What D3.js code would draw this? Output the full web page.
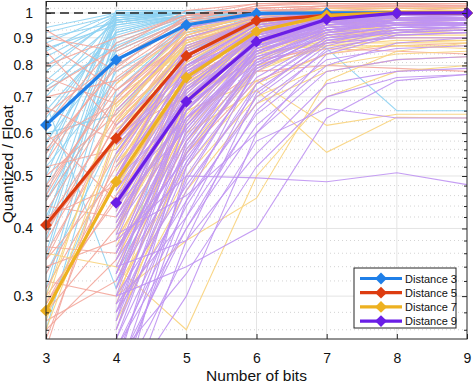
<!DOCTYPE html>
<html><head><meta charset="utf-8">
<script src="https://cdn.jsdelivr.net/npm/d3@7"></script>
<style>body{margin:0;background:#fff}svg{display:block}text{font-family:"Liberation Sans",Arial,sans-serif}</style>
</head><body><svg id="c" width="474" height="383"></svg>
<script>
const bits=[3,4,5,6,7,8,9];
const xTicks=[3,4,5,6,7,8,9];
const yTicks=[0.3,0.4,0.5,0.6,0.7,0.8,0.9,1];
const yTickLabels=["0.3","0.4","0.5","0.6","0.7","0.8","0.9","1"];
const yMinor=[0.26,0.28,0.32,0.34,0.36,0.38,0.42,0.44,0.46,0.48,0.52,0.54,0.56,0.58,0.63,0.66,0.69,0.72,0.75,0.78,0.81,0.84,0.87,0.93,0.96,1.02];
const legendNames=["Distance 3","Distance 5","Distance 7","Distance 9"];
// main curves (values at 3..9 bits; null = no point)
const dist3=[0.621,0.819,0.950,0.998,1.0,1.0,1.0];
const dist5=[0.406,0.587,0.833,0.968,0.99,1.0,1.0];
const dist7=[0.282,0.488,0.760,0.924,0.99,1.0,1.0];
const dist9=[null,0.446,0.686,0.885,0.973,0.999,1.0];
// background curves
const thin3=[
[0.62,0.95,0.99,1.0,1.0,1.0,1.0],[0.55,0.97,1.0,1.0,1.0,1.0,1.0],[0.70,0.98,1.0,1.0,1.0,1.0,1.0],
[0.48,0.93,0.99,1.0,1.0,1.0,1.0],[0.85,0.99,1.0,1.0,1.0,1.0,1.0],[0.92,0.99,1.0,1.0,1.0,1.0,1.0],
[0.40,0.90,0.98,1.0,1.0,1.0,1.0],[0.35,0.88,0.99,0.99,1.0,1.0,1.0],[0.58,0.85,0.97,0.99,1.0,1.0,1.0],
[0.75,0.96,1.0,1.0,1.0,1.0,1.0],[0.30,0.80,0.96,0.99,1.0,1.0,1.0],[0.66,0.92,0.99,1.0,1.0,1.0,1.0],
[0.52,0.75,0.95,0.99,1.0,1.0,1.0],[0.45,0.70,0.93,0.98,0.99,1.0,1.0],[0.80,0.98,1.0,1.0,1.0,1.0,1.0],
[0.60,0.65,0.90,0.97,0.99,1.0,1.0],[0.38,0.97,1.0,1.0,1.0,1.0,1.0],[0.33,0.60,0.88,0.96,0.99,1.0,1.0],
[0.90,0.96,0.99,1.0,1.0,1.0,1.0],[0.50,0.99,1.0,1.0,1.0,1.0,1.0],[0.42,0.82,0.97,1.0,1.0,1.0,1.0],
[0.72,0.87,0.98,1.0,1.0,1.0,1.0],[0.28,0.55,0.85,0.95,0.99,1.0,1.0],[0.64,0.94,0.99,1.0,1.0,1.0,1.0],
[0.45,0.78,0.92,0.96,0.86,0.66,0.66],[0.88,1.0,1.0,1.0,1.0,1.0,1.0],[0.78,0.99,1.0,1.0,1.0,1.0,1.0],
[0.46,0.96,1.0,1.0,1.0,1.0,1.0],[0.36,0.92,0.99,1.0,1.0,1.0,1.0],[0.26,0.72,0.94,0.99,1.0,1.0,1.0],
[0.94,1.0,1.0,1.0,1.0,1.0,1.0],[0.68,0.31,0.80,0.97,0.99,1.0,1.0],[0.57,1.01,1.01,1.01,1.0,1.0,1.0],
[0.83,0.97,1.0,1.0,1.0,1.0,1.0],[0.31,0.86,0.98,1.0,1.0,1.0,1.0],[0.73,0.91,0.99,1.0,1.0,1.0,1.0],
[0.53,1.0,1.01,1.01,1.01,1.0,1.0],[0.41,0.98,1.0,1.0,1.0,1.0,1.0],[0.86,0.95,0.99,1.0,1.0,1.0,1.0]
];
const thin5=[
[0.93,0.78,0.95,0.99,1.0,1.0,1.0],[0.90,0.85,0.97,1.0,1.01,1.0,1.0],[0.40,0.58,0.83,0.97,0.99,1.0,1.0],
[0.35,0.50,0.78,0.95,0.98,0.99,1.0],[0.45,0.70,0.90,0.98,1.0,1.0,1.0],[0.30,0.45,0.72,0.92,0.97,0.99,0.99],
[0.55,0.80,0.96,1.0,1.02,1.02,1.01],[0.62,0.88,0.99,1.02,1.03,1.03,1.03],[0.38,0.62,0.86,0.96,0.99,1.0,1.0],
[0.28,0.40,0.68,0.88,0.95,0.97,0.98],[0.50,0.65,0.88,0.97,1.0,1.0,1.0],[0.33,0.55,0.80,0.93,0.96,0.98,0.98],
[0.70,0.75,0.93,0.99,1.0,1.0,1.0],[0.42,0.48,0.75,0.90,0.94,0.96,0.96],[0.26,0.35,0.62,0.85,0.92,0.95,0.96],
[0.80,0.90,0.99,1.01,1.02,1.02,1.02],[0.48,0.72,0.92,0.99,1.01,1.01,1.0],[0.36,0.60,0.70,0.82,0.86,0.85,0.84],
[0.31,0.52,0.82,0.96,1.0,1.0,1.0],[0.58,0.68,0.91,0.98,0.99,1.0,1.0],[0.44,0.42,0.66,0.86,0.91,0.93,0.94],
[0.27,0.32,0.58,0.80,0.88,0.90,0.90],[0.65,0.82,0.97,1.03,1.04,1.04,1.04],[0.34,0.38,0.64,0.78,0.80,0.79,0.78],
[0.52,0.56,0.85,0.97,1.0,1.0,1.0],[0.29,0.46,0.76,0.94,0.98,0.99,0.99],[0.39,0.66,0.89,0.99,1.02,1.03,1.03],
[0.60,0.45,0.74,0.91,0.97,0.98,0.98],[0.32,0.30,0.55,0.75,0.84,0.87,0.88],[0.46,0.76,0.94,1.0,1.01,1.01,1.01],
[0.85,0.62,0.87,0.96,0.99,1.0,1.0],[0.25,0.54,0.81,0.95,0.99,1.0,1.0],[0.37,0.36,0.70,0.88,0.93,0.95,0.95],
[0.76,0.68,0.90,0.97,0.98,0.99,0.99],[0.41,0.64,0.84,0.93,0.95,0.96,0.96],[0.53,0.83,0.98,1.02,1.03,1.03,1.02],
[0.29,0.50,0.86,0.99,1.01,1.02,1.02],[0.67,0.58,0.80,0.92,0.94,0.95,0.95],[0.88,0.72,0.89,0.95,0.97,0.97,0.97],
[0.47,0.74,0.97,1.03,1.05,1.05,1.05],[0.56,0.79,0.99,1.04,1.04,1.04,1.03],[0.35,0.63,0.93,1.02,1.03,1.04,1.04],
[0.72,0.86,1.01,1.04,1.05,1.05,1.05],[0.43,0.69,0.95,1.01,1.02,1.02,1.02],[0.24,0.60,0.91,1.0,1.03,1.03,1.03]
];
const thin7=[
[null,0.45,0.72,0.90,0.97,0.99,1.0],[null,0.38,0.65,0.85,0.93,0.96,0.97],[null,0.30,0.55,0.78,0.88,0.92,0.93],
[null,0.55,0.80,0.95,0.99,1.0,1.0],[0.27,0.60,0.85,0.97,1.0,1.0,1.0],[null,0.35,0.62,0.82,0.90,0.93,0.94],
[null,0.66,0.88,0.98,1.0,1.0,1.0],[null,0.42,0.70,0.88,0.95,0.97,0.97],[null,0.28,0.50,0.70,0.80,0.84,0.85],
[null,0.50,0.76,0.92,0.96,0.98,0.98],[null,0.33,0.58,0.80,0.86,0.87,0.86],[null,0.48,0.74,0.90,0.96,0.97,0.98],
[0.29,0.70,0.92,0.99,1.01,1.01,1.01],[null,0.36,0.60,0.72,0.553,0.642,0.64],[null,0.40,0.66,0.75,0.62,0.65,0.65],
[null,0.30,0.38,0.455,0.75,0.85,0.88],[null,0.62,0.87,0.97,1.0,1.0,1.0],[null,0.34,0.60,0.84,0.92,0.95,0.96],
[null,0.52,0.79,0.94,0.98,0.99,0.99],[null,0.44,0.68,0.86,0.91,0.92,0.92],[0.26,0.58,0.83,0.96,0.99,1.01,1.01],
[null,0.31,0.52,0.74,0.84,0.88,0.89],[null,0.46,0.77,0.93,0.97,0.98,0.98],[null,0.27,0.47,0.68,0.78,0.82,0.83],
[null,0.74,0.93,0.99,1.0,1.0,1.0],[null,0.56,0.82,0.95,0.98,0.99,0.99],[null,0.36,0.63,0.83,0.89,0.90,0.90],
[null,0.29,0.68,0.90,0.95,0.96,0.96],[null,0.39,0.71,0.91,0.97,0.98,0.98],[null,0.53,0.74,0.87,0.92,0.93,0.93],
[null,0.64,0.90,0.98,1.02,1.02,1.02],[null,0.26,0.56,0.79,0.87,0.89,0.89],[null,0.41,0.67,0.84,0.88,0.88,0.88],
[0.30,0.68,0.86,0.94,0.96,0.97,0.97],[0.36,0.34,0.26,0.50,0.70,0.78,0.80],[null,0.47,0.81,0.96,1.0,1.01,1.01],
[null,0.43,0.73,0.89,0.93,0.94,0.94],[null,0.61,0.78,0.88,0.90,0.91,0.91],[null,0.51,0.86,0.97,0.99,1.0,1.0],
[null,0.37,0.69,0.92,0.98,0.99,0.99],[null,0.57,0.75,0.85,0.87,0.87,0.87],[null,0.49,0.84,0.95,0.97,0.97,0.97],
[null,0.58,0.88,0.96,0.98,0.98,0.98],[null,0.40,0.75,0.93,0.96,0.96,0.96],[null,0.54,0.89,0.98,0.99,0.99,0.99],
[null,0.70,0.86,0.95,0.98,0.99,0.99],[null,0.63,0.84,0.93,0.95,0.96,0.96],[null,0.67,0.91,0.98,0.99,0.99,0.99]
];
const thin9=[
[null,0.45,0.70,0.89,0.97,1.0,1.0],[null,0.40,0.62,0.85,0.95,0.99,1.0],[null,0.35,0.55,0.80,0.92,0.97,0.98],
[null,0.50,0.78,0.93,0.99,1.0,1.0],[null,0.30,0.48,0.72,0.88,0.94,0.96],[null,0.55,0.82,0.96,1.0,1.0,1.0],
[null,0.28,0.45,0.68,0.85,0.92,0.95],[null,0.42,0.66,0.88,0.96,0.98,0.99],[null,0.22,0.40,0.62,0.80,0.88,0.90],
[null,0.60,0.86,0.97,1.0,1.0,1.0],[null,0.33,0.58,0.84,0.95,0.98,0.99],[null,0.26,0.52,0.76,0.90,0.95,0.96],
[null,0.38,0.50,0.496,0.488,0.507,0.482],[null,0.47,0.74,0.91,0.98,0.99,1.0],[null,0.20,0.36,0.58,0.667,0.64,0.64],
[null,0.31,0.60,0.86,0.96,0.99,0.99],[null,0.44,0.68,0.83,0.90,0.92,0.93],[null,0.24,0.44,0.70,0.87,0.93,0.94],
[null,0.36,0.64,0.90,0.98,1.0,1.0],[null,0.52,0.72,0.87,0.93,0.95,0.95],[null,0.29,0.42,0.65,0.82,0.86,0.87],
[null,0.66,0.90,0.98,1.0,1.0,1.0],[null,0.27,0.56,0.82,0.94,0.97,0.97],[null,0.39,0.46,0.60,0.78,0.82,0.83],
[null,0.21,0.50,0.78,0.92,0.96,0.97],[null,0.48,0.80,0.95,0.99,1.0,1.0],[null,0.34,0.38,0.55,0.74,0.78,0.79],
[null,0.57,0.76,0.92,0.97,0.98,0.98],[null,0.23,0.33,0.52,0.70,0.76,0.77],[null,0.41,0.72,0.94,0.99,1.0,1.0],
[null,0.32,0.62,0.87,0.95,0.97,0.97],[null,0.70,0.94,0.99,1.0,1.0,1.0],[null,0.25,0.47,0.74,0.89,0.93,0.93],
[null,0.37,0.54,0.79,0.91,0.94,0.94],[null,0.46,0.64,0.81,0.88,0.90,0.90],[null,0.19,0.30,0.60,0.84,0.91,0.92],
[null,0.53,0.84,0.97,1.0,1.0,1.0],[null,0.30,0.34,0.40,0.64,0.75,0.77],[null,0.43,0.77,0.92,0.96,0.97,0.97],
[null,0.28,0.53,0.81,0.93,0.96,0.96],[null,0.35,0.70,0.91,0.97,0.99,0.99],[null,0.62,0.80,0.90,0.94,0.95,0.95],
[null,0.24,0.40,0.66,0.86,0.91,0.92],[null,0.49,0.67,0.85,0.93,0.96,0.96],[null,0.33,0.66,0.88,0.96,0.98,0.98],
[null,0.40,0.75,0.93,0.98,0.99,0.99],[null,0.33,0.68,0.90,0.97,0.98,0.98],[null,0.28,0.63,0.89,0.96,0.97,0.98],
[null,0.45,0.80,0.95,0.99,0.99,0.99],[null,0.22,0.58,0.86,0.95,0.97,0.97],[null,0.36,0.71,0.92,0.97,0.98,0.98],
[null,0.50,0.83,0.96,0.99,1.0,1.0],[null,0.18,0.52,0.84,0.94,0.96,0.96],[null,0.31,0.66,0.91,0.98,0.99,0.99],
[null,0.26,0.61,0.87,0.96,0.97,0.97],[null,0.42,0.73,0.90,0.95,0.96,0.96],[null,0.20,0.45,0.80,0.93,0.95,0.95],
[null,0.38,0.77,0.94,0.98,0.99,0.99],[null,0.55,0.85,0.97,0.99,0.99,0.99],[null,0.29,0.57,0.85,0.94,0.96,0.96],
[null,0.34,0.64,0.83,0.92,0.94,0.94],[null,0.47,0.70,0.88,0.95,0.96,0.97],[null,0.23,0.49,0.79,0.91,0.94,0.95],
[null,0.39,0.79,0.95,0.98,0.99,0.99],[null,0.27,0.69,0.92,0.97,0.98,0.98],[null,0.44,0.61,0.85,0.93,0.95,0.96],
[null,0.32,0.53,0.82,0.93,0.95,0.95],[null,0.21,0.42,0.74,0.90,0.93,0.94],[null,0.49,0.87,0.97,0.99,1.0,1.0],
[null,0.36,0.59,0.86,0.96,0.98,0.98],[null,0.25,0.55,0.88,0.97,0.98,0.98],[null,0.58,0.78,0.91,0.96,0.97,0.97],
[null,0.30,0.72,0.93,0.98,0.99,0.99],[null,0.17,0.38,0.71,0.89,0.92,0.93],[null,0.41,0.66,0.87,0.94,0.95,0.95]
];
const mainColors=["#1f7fe8","#dd3c10","#edb120","#6a1ee6"];
const thinColors=["#8dd2f2","#f3a79c","#f8d37c","#bf93f2"];

const svg=d3.select("#c");
const L=46,R=467,T=1.5,B=339;
const x=d3.scaleLinear().domain([3,9]).range([L,R]);
const y=d3.scaleLog().domain([0.25,1.05]).range([B,T]);

svg.append("defs").append("clipPath").attr("id","clip").append("rect")
  .attr("x",L).attr("y",T).attr("width",R-L).attr("height",B-T);

// grid
const g=svg.append("g");
g.selectAll(".mg").data(yMinor).join("line").attr("x1",L).attr("x2",R)
  .attr("y1",d=>y(d)).attr("y2",d=>y(d)).attr("stroke","#c8c8c8").attr("stroke-width",0.8).attr("stroke-dasharray","1,3");
g.selectAll(".yg").data(yTicks).join("line").attr("x1",L).attr("x2",R)
  .attr("y1",d=>y(d)).attr("y2",d=>y(d)).attr("stroke","#e4e4e4").attr("stroke-width",1);
g.selectAll(".xg").data(xTicks.slice(1,-1)).join("line").attr("y1",T).attr("y2",B)
  .attr("x1",d=>x(d)).attr("x2",d=>x(d)).attr("stroke","#e4e4e4").attr("stroke-width",1);

const line=d3.line().defined(d=>d[1]!=null).x(d=>x(d[0])).y(d=>y(d[1]));
const pts=arr=>bits.map((b,i)=>[b,arr[i]]);

const thinG=svg.append("g").attr("clip-path","url(#clip)");
[thin3,thin5,thin7,thin9].forEach((set,k)=>{
  thinG.append("g").selectAll("path").data(set).join("path")
    .attr("d",d=>line(pts(d))).attr("fill","none")
    .attr("stroke",thinColors[k]).attr("stroke-width",1.1).attr("opacity",0.9);
});

// reference line at 1
svg.append("line").attr("x1",L).attr("x2",R).attr("y1",y(1)).attr("y2",y(1))
  .attr("stroke","#222").attr("stroke-width",1.6).attr("stroke-dasharray","9,5");

const diamond=d3.symbol().type(d3.symbolSquare).size(70);
[dist3,dist5,dist7,dist9].forEach((arr,k)=>{
  const p=pts(arr);
  svg.append("path").attr("d",line(p)).attr("fill","none").attr("stroke",mainColors[k]).attr("stroke-width",3.2);
  svg.append("g").selectAll("path").data(p.filter(d=>d[1]!=null)).join("path")
    .attr("d",diamond).attr("fill",mainColors[k])
    .attr("transform",d=>`translate(${x(d[0])},${y(d[1])}) rotate(45)`);
});

// axes
const ax=svg.append("g");
ax.append("rect").attr("x",L).attr("y",T).attr("width",R-L).attr("height",B-T)
  .attr("fill","none").attr("stroke","#262626").attr("stroke-width",1);
ax.append("g").attr("transform",`translate(0,${B})`)
  .call(d3.axisBottom(x).tickValues(xTicks).tickSizeInner(-5).tickSizeOuter(0).tickPadding(14).tickFormat(d3.format("d")));
ax.append("g").attr("transform",`translate(0,${T})`)
  .call(d3.axisTop(x).tickValues(xTicks).tickSizeInner(-5).tickSizeOuter(0).tickFormat(""));
ax.append("g").attr("transform",`translate(${L},0)`)
  .call(d3.axisLeft(y).tickValues(yTicks).tickSizeInner(-5).tickSizeOuter(0).tickPadding(13).tickFormat((d,i)=>yTickLabels[i]));
ax.append("g").attr("transform",`translate(${R},0)`)
  .call(d3.axisRight(y).tickValues(yTicks).tickSizeInner(-5).tickSizeOuter(0).tickFormat(""));
ax.append("g").attr("transform",`translate(${L},0)`)
  .call(d3.axisLeft(y).tickValues(yMinor).tickSizeInner(-3).tickSizeOuter(0).tickFormat(""));
ax.append("g").attr("transform",`translate(${R},0)`)
  .call(d3.axisRight(y).tickValues(yMinor).tickSizeInner(-3).tickSizeOuter(0).tickFormat(""));
ax.selectAll(".domain").remove();
ax.selectAll(".tick line").attr("stroke","#262626");
ax.selectAll(".tick text").attr("font-size",14).attr("fill","#111").attr("font-family","Liberation Sans, Arial, sans-serif");

svg.append("text").attr("x",(L+R)/2).attr("y",381).attr("text-anchor","middle")
  .attr("font-size",15.5).attr("fill","#111").text("Number of bits");
svg.append("text").attr("transform",`translate(13,${(T+B)/2-6}) rotate(-90)`).attr("text-anchor","middle")
  .attr("font-size",15.5).attr("fill","#111").text("Quantized / Float");

// legend
const lg=svg.append("g");
lg.append("rect").attr("x",354).attr("y",268).attr("width",102).attr("height",60)
  .attr("fill","#fff").attr("stroke","#262626").attr("stroke-width",1);
legendNames.forEach((n,i)=>{
  const yy=278.5+i*14.2;
  lg.append("line").attr("x1",360).attr("x2",402).attr("y1",yy).attr("y2",yy).attr("stroke",mainColors[i]).attr("stroke-width",3.2);
  lg.append("path").attr("d",diamond).attr("fill",mainColors[i]).attr("transform",`translate(381,${yy}) rotate(45)`);
  lg.append("text").attr("x",405).attr("y",yy+4).attr("font-size",11).attr("fill","#111").text(n);
});
</script></body></html>
